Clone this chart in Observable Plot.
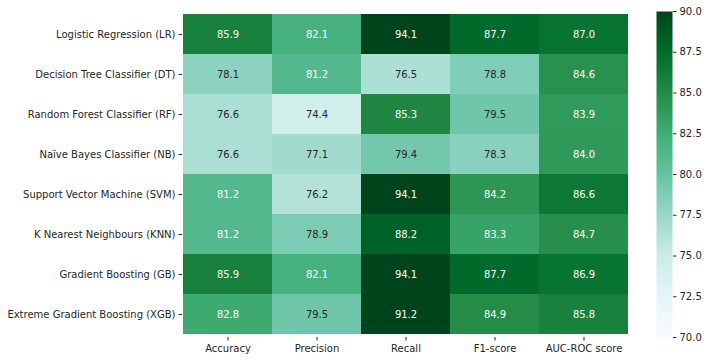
<!DOCTYPE html>
<html>
<head>
<meta charset="utf-8">
<script src="https://cdn.jsdelivr.net/npm/d3@7"></script>
<script src="https://cdn.jsdelivr.net/npm/@observablehq/plot@0.6"></script>
<style>
  body { margin: 0; background: white; }
  #wrap { position: relative; width: 709px; height: 361px; }
  #wrap svg { position: absolute; top: 0; left: 0; }
</style>
</head>
<body>
<div id="wrap"></div>
<script>
const models = [
  "Logistic Regression (LR)",
  "Decision Tree Classifier (DT)",
  "Random Forest Classifier (RF)",
  "Naïve Bayes Classifier (NB)",
  "Support Vector Machine (SVM)",
  "K Nearest Neighbours (KNN)",
  "Gradient Boosting (GB)",
  "Extreme Gradient Boosting (XGB)"
];
const metrics = ["Accuracy", "Precision", "Recall", "F1-score", "AUC-ROC score"];
const accuracy  = [85.9, 78.1, 76.6, 76.6, 81.2, 81.2, 85.9, 82.8];
const precision = [82.1, 81.2, 74.4, 77.1, 76.2, 78.9, 82.1, 79.5];
const recall    = [94.1, 76.5, 85.3, 79.4, 94.1, 88.2, 94.1, 91.2];
const f1score   = [87.7, 78.8, 79.5, 78.3, 84.2, 83.3, 87.7, 84.9];
const aucroc    = [87.0, 84.6, 83.9, 84.0, 86.6, 84.7, 86.9, 85.8];
const colorTicks = [70.0, 72.5, 75.0, 77.5, 80.0, 82.5, 85.0, 87.5, 90.0];
const bugn = ["#f7fcfd","#e5f5f9","#ccece6","#99d8c9","#66c2a4","#41ae76","#238b45","#006d2c","#00441b"];

const series = [accuracy, precision, recall, f1score, aucroc];
const table = [];
models.forEach((m, i) => metrics.forEach((k, j) => table.push({model: m, metric: k, value: series[j][i]})));

const colorOpts = {type: "linear", domain: colorTicks, range: bugn, clamp: true};
const cscale = d3.scaleLinear().domain(colorTicks).range(bugn).clamp(true);
function lum(c) {
  const rgb = d3.rgb(c);
  const f = v => { v /= 255; return v <= 0.03928 ? v / 12.92 : Math.pow((v + 0.055) / 1.055, 2.4); };
  return 0.2126 * f(rgb.r) + 0.7152 * f(rgb.g) + 0.0722 * f(rgb.b);
}
const font = {fontSize: "10px", fontFamily: "DejaVu Sans", color: "#262626", background: "transparent"};

const main = Plot.plot({
  width: 709, height: 361,
  marginLeft: 182, marginRight: 81, marginTop: 11, marginBottom: 24,
  style: {...font, background: "white"},
  x: {domain: metrics, padding: 0, label: null, tickSize: 3.5, tickPadding: 3.5},
  y: {domain: models, padding: 0, label: null, tickSize: 3.5, tickPadding: 3.5},
  color: colorOpts,
  marks: [
    Plot.cell(table, {x: "metric", y: "model", fill: "value"}),
    Plot.text(table, {x: "metric", y: "model", text: d => d.value.toFixed(1),
      fill: d => lum(cscale(d.value)) > 0.408 ? "#262626" : "white", fontSize: 10})
  ]
});

const bar = Plot.plot({
  width: 709, height: 361,
  marginLeft: 656, marginRight: 37, marginTop: 11, marginBottom: 24,
  style: font,
  x: {domain: [0, 1], axis: null},
  y: {domain: [70, 90], axis: "right", ticks: colorTicks, tickFormat: d3.format(".1f"), label: null, tickSize: 3.5, tickPadding: 3.5},
  color: colorOpts,
  marks: [
    Plot.raster({x1: 0, x2: 1, y1: 70, y2: 90, width: 1, height: 400, fill: (x, y) => y, imageRendering: "auto"})
  ]
});

document.getElementById("wrap").append(main, bar);
</script>
</body>
</html>
